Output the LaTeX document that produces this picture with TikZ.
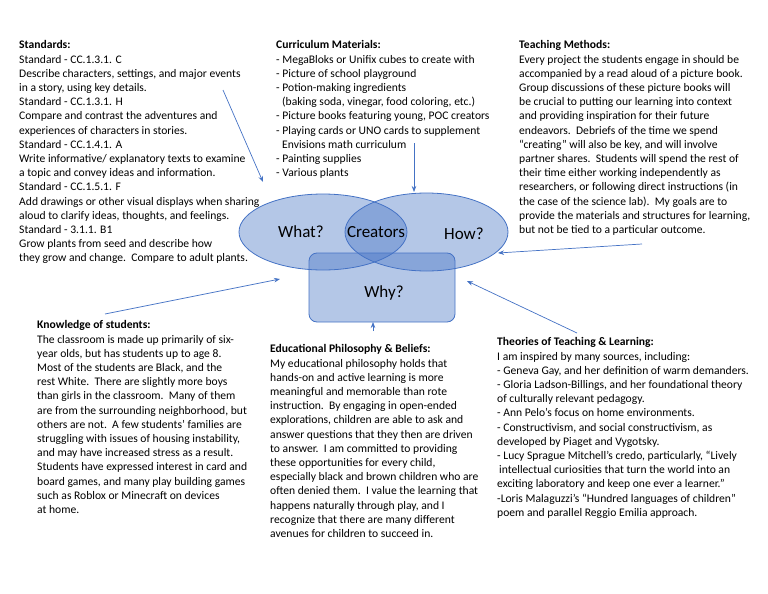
\documentclass[tikz,border=0pt]{standalone}
\usepackage{fontspec}
\setmainfont{Carlito}
\usetikzlibrary{ shapes.geometric, % For the ellipses
                 arrows.meta,      % For the arrow tips
               }
\definecolor{venn}{RGB}{68,114,196}
\tikzstyle{blob} = [ellipse, draw=venn, fill=venn, fill opacity=0.4, line width=0.8pt]
\tikzstyle{box} = [rectangle, rounded corners=8pt, draw=venn, fill=venn, fill opacity=0.4, line width=0.8pt]
\tikzstyle{word} = [inner sep=0pt, font=\fontsize{17}{20}\selectfont]
\tikzstyle{txt} = [anchor=north west, align=left, inner sep=0pt, font=\fontsize{11.6}{14.2}\selectfont]
\tikzstyle{ptr} = [-{Stealth[length=6pt, width=4.5pt]}, draw=venn, line width=0.7pt]

\begin{document}
\begin{tikzpicture}[x=1pt, y=-1pt]
  \useasboundingbox (0, 0) rectangle (768, 594);

  % the diagram
  \node (what) [blob, minimum width=168pt, minimum height=76pt] at (323, 232) {};
  \node (how) [blob, minimum width=163pt, minimum height=78pt] at (426.5, 232) {};
  \node (why) [box, minimum width=146pt, minimum height=69pt] at (382, 287.5) {};
  \node (lwhat) [word] at (301, 232) {What?};
  \node (lcre) [word] at (376, 232) {Creators};
  \node (lhow) [word] at (464, 234) {How?};
  \node (lwhy) [word] at (384, 293) {Why?};

  % the texts
  \node (std) [txt] at (19, 40.5) {\textbf{Standards:}\\
    Standard - CC.1.3.1. C\\
    Describe characters, settings, and major events\\
    in a story, using key details.\\
    Standard - CC.1.3.1. H\\
    Compare and contrast the adventures and\\
    experiences of characters in stories.\\
    Standard - CC.1.4.1. A\\
    Write informative/ explanatory texts to examine\\
    a topic and convey ideas and information.\\
    Standard - CC.1.5.1. F\\
    Add drawings or other visual displays when sharing\\
    aloud to clarify ideas, thoughts, and feelings.\\
    Standard - 3.1.1. B1\\
    Grow plants from seed and describe how\\
    they grow and change.\ \ Compare to adult plants.};
  \node (mat) [txt] at (276, 40.5) {\textbf{Curriculum Materials:}\\
    - MegaBloks or Unifix cubes to create with\\
    - Picture of school playground\\
    - Potion-making ingredients\\
    \hspace*{6pt}(baking soda, vinegar, food coloring, etc.)\\
    - Picture books featuring young, POC creators\\
    - Playing cards or UNO cards to supplement\\
    \hspace*{6pt}Envisions math curriculum\\
    - Painting supplies\\
    - Various plants};
  \node (meth) [txt] at (519, 40.5) {\textbf{Teaching Methods:}\\
    Every project the students engage in should be\\
    accompanied by a read aloud of a picture book.\\
    Group discussions of these picture books will\\
    be crucial to putting our learning into context\\
    and providing inspiration for their future\\
    endeavors.\ \ Debriefs of the time we spend\\
    “creating” will also be key, and will involve\\
    partner shares.\ \ Students will spend the rest of\\
    their time either working independently as\\
    researchers, or following direct instructions (in\\
    the case of the science lab).\ \ My goals are to\\
    provide the materials and structures for learning,\\
    but not be tied to a particular outcome.};
  \node (know) [txt] at (37, 320.5) {\textbf{Knowledge of students:}\\
    The classroom is made up primarily of six-\\
    year olds, but has students up to age 8.\\
    Most of the students are Black, and the\\
    rest White.\ \ There are slightly more boys\\
    than girls in the classroom.\ \ Many of them\\
    are from the surrounding neighborhood, but\\
    others are not.\ \ A few students’ families are\\
    struggling with issues of housing instability,\\
    and may have increased stress as a result.\\
    Students have expressed interest in card and\\
    board games, and many play building games\\
    such as Roblox or Minecraft on devices\\
    at home.};
  \node (phil) [txt] at (270, 344.5) {\textbf{Educational Philosophy \& Beliefs:}\\
    My educational philosophy holds that\\
    hands-on and active learning is more\\
    meaningful and memorable than rote\\
    instruction.\ \ By engaging in open-ended\\
    explorations, children are able to ask and\\
    answer questions that they then are driven\\
    to answer.\ \ I am committed to providing\\
    these opportunities for every child,\\
    especially black and brown children who are\\
    often denied them.\ \ I value the learning that\\
    happens naturally through play, and I\\
    recognize that there are many different\\
    avenues for children to succeed in.};
  \node (theo) [txt] at (497, 337.5) {\textbf{Theories of Teaching \& Learning:}\\
    I am inspired by many sources, including:\\
    - Geneva Gay, and her definition of warm demanders.\\
    - Gloria Ladson-Billings, and her foundational theory\\
    of culturally relevant pedagogy.\\
    - Ann Pelo’s focus on home environments.\\
    - Constructivism, and social constructivism, as\\
    developed by Piaget and Vygotsky.\\
    - Lucy Sprague Mitchell’s credo, particularly, “Lively\\
    \hspace*{2pt}intellectual curiosities that turn the world into an\\
    exciting laboratory and keep one ever a learner.”\\
    -Loris Malaguzzi’s “Hundred languages of children”\\
    poem and parallel Reggio Emilia approach.};

  % the arrows
  \coordinate (s1) at (223, 90);  \coordinate (e1) at (263, 182);
  \coordinate (s2) at (414, 143); \coordinate (e2) at (414, 192);
  \coordinate (s3) at (642, 244); \coordinate (e3) at (498, 253);
  \coordinate (s4) at (105, 314); \coordinate (e4) at (280, 279);
  \coordinate (s5) at (373, 331); \coordinate (e5) at (373, 322);
  \coordinate (s6) at (577, 333); \coordinate (e6) at (467, 281);
  \draw [ptr] (s1) -- (e1);
  \draw [ptr] (s2) -- (e2);
  \draw [ptr] (s3) -- (e3);
  \draw [ptr] (s4) -- (e4);
  \draw [ptr] (s5) -- (e5);
  \draw [ptr] (s6) -- (e6);
\end{tikzpicture}
\end{document}
